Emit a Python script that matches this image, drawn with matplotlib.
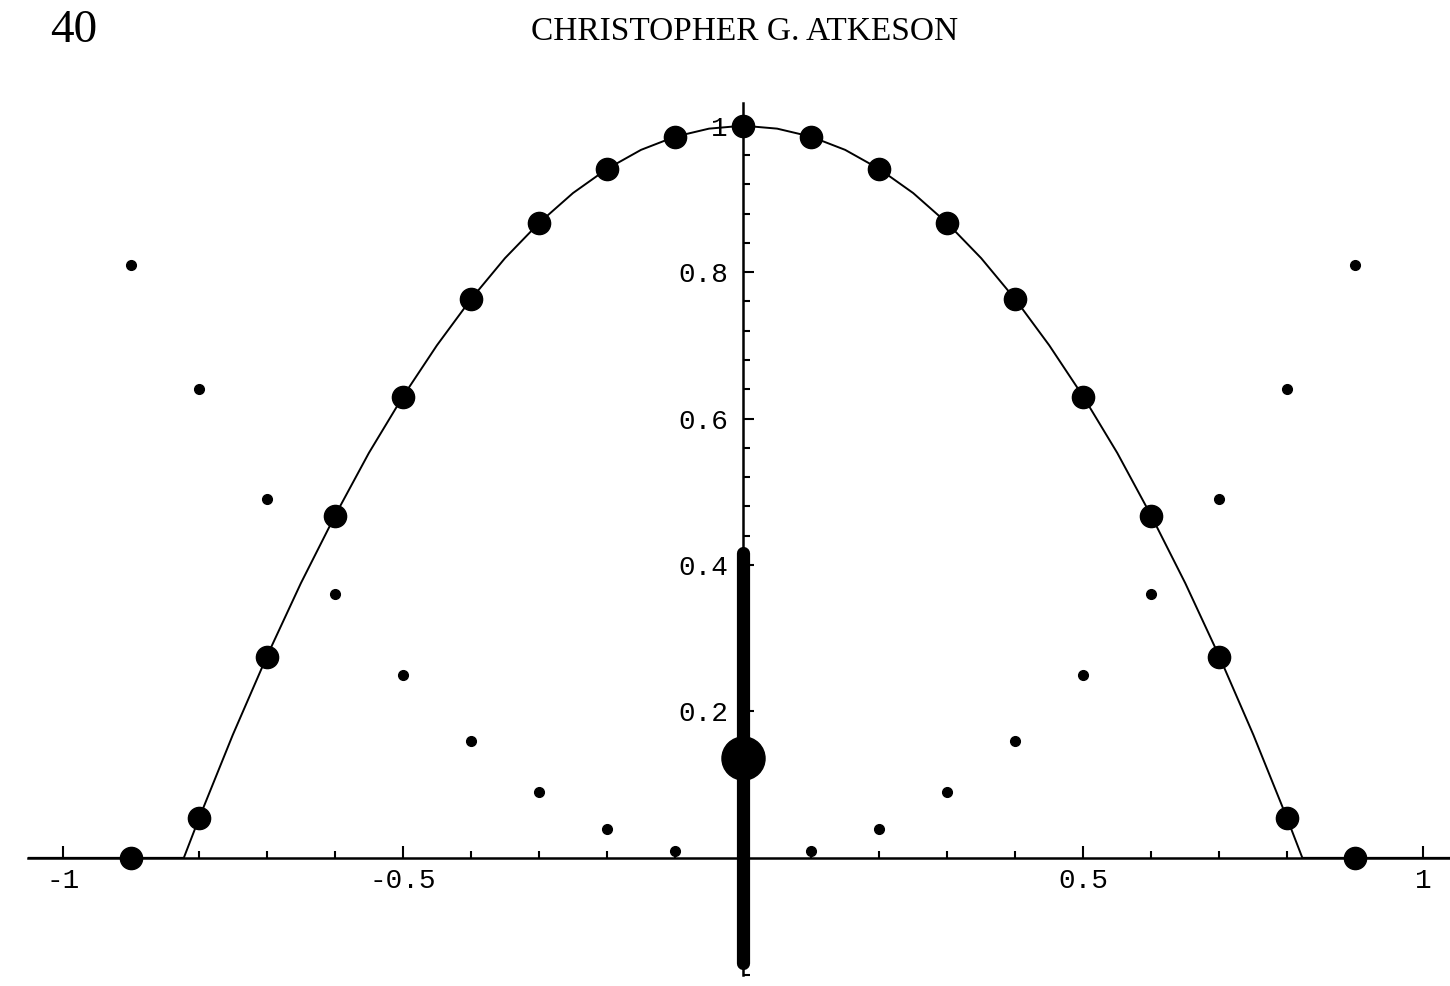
import matplotlib.pyplot as plt
import numpy as np
from matplotlib.ticker import FixedLocator

# kernel weights (big dots) at the sample points
xs = [-0.9, -0.8, -0.7, -0.6, -0.5, -0.4, -0.3, -0.2, -0.1, 0.0,
      0.1, 0.2, 0.3, 0.4, 0.5, 0.6, 0.7, 0.8, 0.9]
w = [0.0, 0.055, 0.275, 0.467, 0.63, 0.763, 0.867, 0.941, 0.985, 1.0,
     0.985, 0.941, 0.867, 0.763, 0.63, 0.467, 0.275, 0.055, 0.0]
# data points (small dots), no dot drawn at x=0
dx = [-0.9, -0.8, -0.7, -0.6, -0.5, -0.4, -0.3, -0.2, -0.1,
      0.1, 0.2, 0.3, 0.4, 0.5, 0.6, 0.7, 0.8, 0.9]
dy = [0.81, 0.64, 0.49, 0.36, 0.25, 0.16, 0.09, 0.04, 0.01,
      0.01, 0.04, 0.09, 0.16, 0.25, 0.36, 0.49, 0.64, 0.81]
# kernel curve
cx = [-1.05, -0.822, -0.8, -0.75, -0.7, -0.65, -0.6, -0.55, -0.5, -0.45, -0.4,
      -0.35, -0.3, -0.25, -0.2, -0.15, -0.1, -0.05, 0.0,
      0.05, 0.1, 0.15, 0.2, 0.25, 0.3, 0.35, 0.4, 0.45, 0.5,
      0.55, 0.6, 0.65, 0.7, 0.75, 0.8, 0.822, 1.04]
cy = [0.0, 0.0, 0.053, 0.168, 0.275, 0.375, 0.467, 0.553, 0.63, 0.70, 0.763,
      0.819, 0.867, 0.908, 0.941, 0.967, 0.985, 0.996, 1.0,
      0.996, 0.985, 0.967, 0.941, 0.908, 0.867, 0.819, 0.763, 0.70, 0.63,
      0.553, 0.467, 0.375, 0.275, 0.168, 0.053, 0.0, 0.0]
# local fit estimate at query point and its band
qx = 0.0
qy = 0.137
band = [-0.143, 0.417]

fig = plt.figure(figsize=(14.5, 9.86), dpi=100)
ax = fig.add_axes([28/1450, 1-975/986, 1-28/1450, (975-103)/986])

ax.plot(cx, cy, color='k', lw=1.4, zorder=2)
ax.plot(xs, w, 'o', color='k', ms=16, zorder=3)
ax.plot(dx, dy, 'o', color='k', ms=7, zorder=3)
ax.plot([qx, qx], band, color='k', lw=9.5, solid_capstyle='round', zorder=4)
ax.plot([qx], [qy], 'o', color='k', ms=31, zorder=5)

ax.set_xlim(-1.051, 1.039)
ax.set_ylim(-0.16, 1.031)

for s in ['top', 'right']:
    ax.spines[s].set_visible(False)
ax.spines['left'].set_position(('data', 0))
ax.spines['bottom'].set_position(('data', 0))
ax.spines['left'].set_linewidth(1.8)
ax.spines['bottom'].set_linewidth(1.8)

ax.set_xticks([-1, -0.5, 0.5, 1])
ax.set_xticklabels(['-1', '-0.5', '0.5', '1'])
ax.xaxis.set_minor_locator(FixedLocator([-0.9, -0.8, -0.7, -0.6, -0.4, -0.3, -0.2, -0.1,
                                         0.1, 0.2, 0.3, 0.4, 0.6, 0.7, 0.8, 0.9]))
ax.set_yticks([0.2, 0.4, 0.6, 0.8, 1.0])
ax.set_yticklabels(['0.2', '0.4', '0.6', '0.8', '1'])
ax.yaxis.set_minor_locator(FixedLocator(np.arange(-0.16, 1.0, 0.04)))

ax.tick_params(which='both', direction='in', width=1.5, colors='k')
ax.tick_params(axis='x', which='major', length=9, pad=7, labelsize=20)
ax.tick_params(axis='x', which='minor', length=5)
ax.tick_params(axis='y', which='major', length=8, pad=11, labelsize=20)
ax.tick_params(axis='y', which='minor', length=5)
for lab in ax.get_xticklabels() + ax.get_yticklabels():
    lab.set_family('Liberation Mono')

fig.text(50/1450, 1-42/986, '40', family='Liberation Serif', fontsize=34,
         ha='left', va='baseline')
fig.text(745/1450, 1-40/986, 'CHRISTOPHER G. ATKESON', family='Liberation Serif',
         fontsize=24, ha='center', va='baseline')

fig.savefig('out.png', dpi=100)
